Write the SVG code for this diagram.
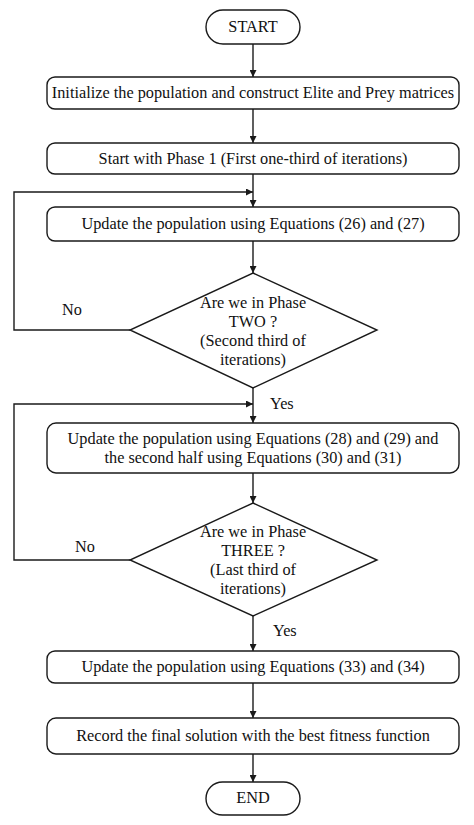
<svg xmlns="http://www.w3.org/2000/svg" width="474" height="825" viewBox="0 0 474 825">
<style>
.n{fill:#fff;stroke:#1a1a1a;stroke-width:1.4}
.c{fill:none;stroke:#1a1a1a;stroke-width:1.4}
.t{font-family:'Liberation Serif','Times New Roman',Times,serif;font-size:16.3px;fill:#111;text-anchor:middle}
.l{text-anchor:start}
</style>
<defs>
<marker id="a" viewBox="0 0 10 10" refX="10" refY="5" markerWidth="8" markerHeight="7" markerUnits="userSpaceOnUse" orient="auto">
<path d="M0,0 L10,5 L0,10 Z" fill="#1a1a1a"/>
</marker>
</defs>
<rect width="474" height="825" fill="#fff"/>
<g id="connectors">
<line class="c" x1="253" y1="44" x2="253" y2="77" marker-end="url(#a)"/>
<line class="c" x1="253" y1="109" x2="253" y2="143" marker-end="url(#a)"/>
<line class="c" x1="253" y1="174" x2="253" y2="207" marker-end="url(#a)"/>
<polyline class="c" points="130,330 14,330 14,192 253,192" marker-end="url(#a)"/>
<line class="c" x1="253" y1="241" x2="253" y2="273" marker-end="url(#a)"/>
<line class="c" x1="253" y1="388" x2="253" y2="423" marker-end="url(#a)"/>
<polyline class="c" points="130,560 14,560 14,404 253,404" marker-end="url(#a)"/>
<line class="c" x1="253" y1="473" x2="253" y2="503" marker-end="url(#a)"/>
<line class="c" x1="253" y1="616" x2="253" y2="651" marker-end="url(#a)"/>
<line class="c" x1="253" y1="683" x2="253" y2="718" marker-end="url(#a)"/>
<line class="c" x1="253" y1="754" x2="253" y2="782" marker-end="url(#a)"/>
<g class="t" font-family="Liberation Serif, serif">
<text class="l" x="62" y="315">No</text>
<text class="l" x="270" y="409">Yes</text>
<text class="l" x="75" y="552">No</text>
<text class="l" x="273" y="636">Yes</text>
</g>
</g>
<g id="start" class="t" font-family="Liberation Serif, serif">
<rect class="n" x="206" y="10" width="94" height="34" rx="17"/>
<text x="253" y="32">START</text>
</g>
<g id="init" class="t" font-family="Liberation Serif, serif">
<rect class="n" x="47" y="77" width="412" height="32" rx="8"/>
<text x="253" y="98">Initialize the population and construct Elite and Prey matrices</text>
</g>
<g id="phase1" class="t" font-family="Liberation Serif, serif">
<rect class="n" x="47" y="143" width="412" height="31" rx="8"/>
<text x="253" y="164">Start with Phase 1 (First one-third of iterations)</text>
</g>
<g id="update1" class="t" font-family="Liberation Serif, serif">
<rect class="n" x="47" y="207" width="412" height="34" rx="8"/>
<text x="253" y="229">Update the population using Equations (26) and (27)</text>
</g>
<g id="dec2" class="t" font-family="Liberation Serif, serif">
<polygon class="n" points="253,273 377,330 253,388 130,330"/>
<text x="253" y="308">Are we in Phase</text>
<text x="253" y="327">TWO ?</text>
<text x="253" y="346">(Second third of</text>
<text x="253" y="365">iterations)</text>
</g>
<g id="update2" class="t" font-family="Liberation Serif, serif">
<rect class="n" x="47" y="423" width="412" height="50" rx="9"/>
<text x="253" y="444">Update the population using Equations (28) and (29) and</text>
<text x="253" y="463">the second half using Equations (30) and (31)</text>
</g>
<g id="dec3" class="t" font-family="Liberation Serif, serif">
<polygon class="n" points="253,503 377,560 253,616 130,560"/>
<text x="253" y="537">Are we in Phase</text>
<text x="253" y="556">THREE ?</text>
<text x="253" y="575">(Last third of</text>
<text x="253" y="594">iterations)</text>
</g>
<g id="update3" class="t" font-family="Liberation Serif, serif">
<rect class="n" x="47" y="651" width="412" height="32" rx="8"/>
<text x="253" y="672">Update the population using Equations (33) and (34)</text>
</g>
<g id="record" class="t" font-family="Liberation Serif, serif">
<rect class="n" x="47" y="718" width="412" height="36" rx="9"/>
<text x="253" y="741">Record the final solution with the best fitness function</text>
</g>
<g id="end" class="t" font-family="Liberation Serif, serif">
<rect class="n" x="206" y="782" width="94" height="33" rx="16.5"/>
<text x="253" y="803">END</text>
</g>
</svg>
